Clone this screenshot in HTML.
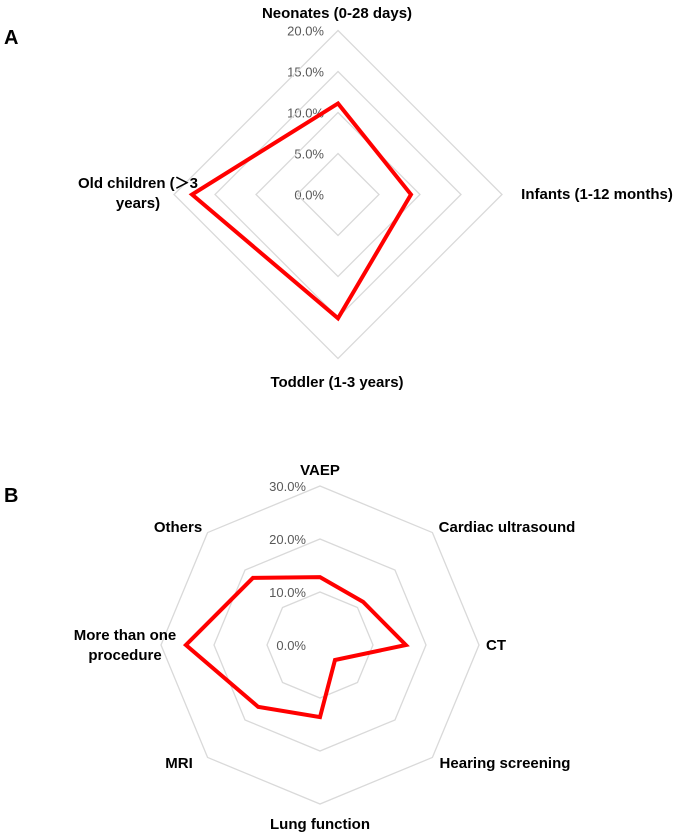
<!DOCTYPE html>
<html><head><meta charset="utf-8"><style>
html,body{margin:0;padding:0;background:#fff;}
svg{display:block;font-family:"Liberation Sans",sans-serif;}
.lab{font-weight:bold;font-size:15px;fill:#000;}
.tick{font-size:13px;fill:#595959;}
</style></head><body>
<svg id="chart" width="685" height="834" viewBox="0 0 685 834">
<text x="4" y="44" font-size="20" font-weight="bold">A</text>
<text x="4" y="502" font-size="20" font-weight="bold">B</text>
<g id="ga"></g><g id="gb"></g>
</svg>
<script>
const catsA = ["Neonates (0-28 days)", "Infants (1-12 months)", "Toddler (1-3 years)", "Old children (＞3 years)"];
const valsA = [11.1, 8.9, 15.1, 17.8];
const ticksA = [0, 5, 10, 15, 20];
const catsB = ["VAEP", "Cardiac ultrasound", "CT", "Hearing screening", "Lung function", "MRI", "More than one procedure", "Others"];
const valsB = [12.8, 11.5, 16.2, 4.0, 13.6, 16.5, 25.3, 17.9];
const ticksB = [0, 10, 20, 30];
const NS = "http://www.w3.org/2000/svg";
function mk(tag, attrs, parent){const e=document.createElementNS(NS,tag);for(const k in attrs)e.setAttribute(k,attrs[k]);parent.appendChild(e);return e;}
function radar(g, cats, vals, ticks, cx, cy, R, labelPos, prefix){
  const max = ticks[ticks.length-1], n = cats.length;
  const pt=(i,v)=>{const a=-Math.PI/2+2*Math.PI*i/n;const r=v/max*R;return [cx+r*Math.cos(a),cy+r*Math.sin(a)];};
  ticks.forEach((t,ti)=>{
    if(t>0){
      const p=[];for(let i=0;i<n;i++)p.push(pt(i,t).join(","));
      const ring=mk("polygon",{points:p.join(" "),fill:"none",stroke:"#d9d9d9","stroke-width":1.3},g);
      
      
    }
    const tx=mk("text",{x:cx-14,y:cy-t/max*R+5,"text-anchor":"end",class:"tick"},g);
    tx.textContent=t.toFixed(1)+"%";
    
    
  });
  const pts=vals.map((v,i)=>pt(i,v).join(",")).join(" ");
  const s=mk("polygon",{points:pts,fill:"none",stroke:"#ff0000","stroke-width":4,"stroke-linejoin":"miter"},g);
  
  
  cats.forEach((c,i)=>{
    const L=labelPos[i];
    const t=mk("text",{x:L[0],y:L[1],"text-anchor":L[2],class:"lab"},g);
    
    
    const lines=L[3]||[c];
    lines.forEach((ln,j)=>{const ts=mk("tspan",{x:L[0],dy:j?20:0},t);ts.textContent=ln;});
  });
}
radar(document.getElementById("ga"),catsA,valsA,ticksA,338,194.5,164,[
 [337,18,"middle"],[597,199,"middle"],[337,387,"middle"],[138,188,"middle",["Old children (＞3","years)"]]
],"chart-a");
radar(document.getElementById("gb"),catsB,valsB,ticksB,320,645,159,[
 [320,475,"middle"],[507,532,"middle"],[496,650,"middle"],[505,768,"middle"],[320,829,"middle"],[179,768,"middle"],[125,640,"middle",["More than one","procedure"]],[178,532,"middle"]
],"chart-b");
</script>
</body></html>
